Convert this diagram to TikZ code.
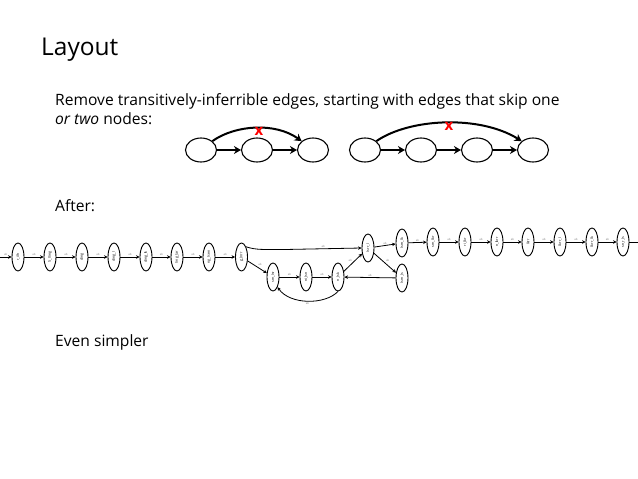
\documentclass[tikz,border=0pt]{standalone}
\usepackage{fontspec}
\setmainfont{Open Sans}
\usetikzlibrary{shapes.geometric,arrows.meta}
\tikzset{
  txt/.style={anchor=base west,inner sep=0pt,font=\fontsize{15.6}{19}\selectfont},
  bigell/.style={draw,ellipse,line width=1.1pt,minimum width=31pt,minimum height=24pt,inner sep=0pt},
  bigarr/.style={line width=2pt,-{Stealth[length=7pt,width=8pt]}},
  redx/.style={text=red,font=\fontsize{15}{15}\selectfont\bfseries,inner sep=0pt},
  gn/.style={draw,ellipse,line width=0.9pt,minimum width=12pt,minimum height=28pt,inner sep=0pt,
    font=\fontsize{3.6}{4}\selectfont},
  ge/.style={line width=0.8pt,-{Stealth[length=3.5pt,width=3.5pt]}},
  el/.style={font=\fontsize{2.8}{3}\selectfont,text=gray,inner sep=0.6pt}
}
\begin{document}
\begin{tikzpicture}[x=1pt,y=-1pt]
\useasboundingbox (0,0) rectangle (638,479);
% texts
\node[txt,font=\fontsize{24.5}{28}\selectfont] (title) at (41,55) {Layout};
\node[txt] (t1) at (55,105) {Remove transitively-inferrible edges, starting with edges that skip one};
\node[txt] (t2) at (55,124) {\textit{or two} nodes:};
\node[txt] (t3) at (55,211) {After:};
\node[txt] (t4) at (55,346) {Even simpler};
% small diagram 1
\node[bigell] (a1) at (201,150) {};
\node[bigell] (a2) at (257,150) {};
\node[bigell] (a3) at (313,150) {};
\draw[bigarr] (a1) -- (a2);
\draw[bigarr] (a2) -- (a3);
\draw[bigarr] (a1.north east) .. controls (235,125) and (275,122) .. (a3.north west);
\node[redx] (x1) at (259,131) {x};
% small diagram 2
\node[bigell] (b1) at (365,150) {};
\node[bigell] (b2) at (421,150) {};
\node[bigell] (b3) at (477,150) {};
\node[bigell] (b4) at (533,150) {};
\draw[bigarr] (b1) -- (b2);
\draw[bigarr] (b2) -- (b3);
\draw[bigarr] (b3) -- (b4);
\draw[bigarr] (b1.north east) .. controls (410,118) and (480,115) .. (b4.north west);
\node[redx] (x2) at (449,126) {x};
% main graph
\foreach \n/\x/\y/\l in {n1/18/257/r\_ilh, n2/50/257/5\_lling, n3/82/257/ding, n4/114/257/ding\_l,
  n5/146/257/ding\_lk, n6/177/257/ling\_lar, n7/209/257/ng\_lsen, n8/241.5/257/g\_lnrr,
  n9/273/277/sm\_lsr, n10/306/277/ni\_lsn, n11/338/277/n\_lsk, n12/368/248/lsrr\_l,
  n13/402/243/lsrn\_lk, n14/402/278/lsrn\_ls, n15/433/242/sm\_lkr, n16/465/242/ri\_lkr,
  n17/497/242/n\_lkrr, n18/528/242/lkrr, n19/560/242/lkrr\_l, n20/592/242/lkrr\_lk,
  n21/623/242/sn\_r\_ls}
  {\node[gn] (\n) at (\x,\y) {\rotatebox{90}{\l}};}
\coordinate (cin) at (0,257);
\coordinate (cout) at (638,242);
\draw[ge] (cin) -- node[el,above]{ab} (n1);
\foreach \a/\b in {n1/n2,n2/n3,n3/n4,n4/n5,n5/n6,n6/n7,n7/n8,n9/n10,n10/n11,
  n13/n15,n15/n16,n16/n17,n17/n18,n18/n19,n19/n20,n20/n21}
  {\draw[ge] (\a) -- node[el,above]{ab} (\b);}
\draw[line width=0.8pt] (n21) -- (cout);
\draw[ge] (n8) -- node[el,above right]{ab} (n9);
\draw[ge] (n11) -- node[el,above left]{ab} (n12);
\draw[ge] (n12) -- node[el,above]{ab} (n13);
\draw[ge] (n12) -- node[el,above right]{ab} (n14);
\draw[ge] (n14) -- node[el,above]{ab} (n11);
\draw[ge] (n8.north east) .. controls (256,250) and (262,249.5) .. (285,249.5) -- node[el,above]{ab} (n12.west);
\draw[ge] (n11.south) .. controls (325,305) and (290,305) .. node[el,below]{ab} (n9.south east);
\end{tikzpicture}
\end{document}
